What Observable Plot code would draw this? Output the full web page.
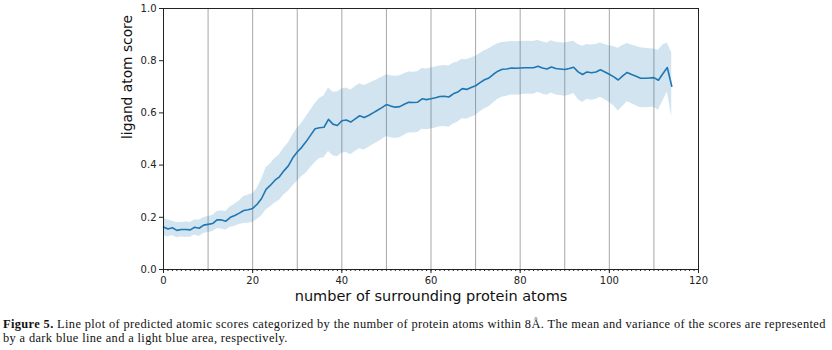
<!DOCTYPE html>
<html>
<head>
<meta charset="utf-8">
<script src="https://cdn.jsdelivr.net/npm/d3@7"></script>
<script src="https://cdn.jsdelivr.net/npm/@observablehq/plot@0.6"></script>
<style>
  html, body { margin: 0; padding: 0; background: #fff; }
  #chart svg { display: block; }
  #caption {
    margin: 7px 0 0 3px;
    font-family: "Liberation Serif", "DejaVu Serif", serif;
    font-size: 12.4px;
    letter-spacing: 0.37px;
    line-height: 14px;
    color: #111;
    white-space: nowrap;
  }
  #caption b { font-weight: bold; }
</style>
</head>
<body>
<div id="chart"></div>
<div id="caption"><b>Figure 5.</b> Line plot of predicted atomic scores categorized by the number of protein atoms within 8Å. The mean and variance of the scores are represented<br>by a dark blue line and a light blue area, respectively.</div>
<script>
// number of surrounding protein atoms: 0..114
const meanScore = [
  0.163,0.155,0.160,0.150,0.153,0.153,0.152,0.162,0.158,0.170,
  0.173,0.176,0.190,0.190,0.185,0.200,0.207,0.216,0.226,0.229,
  0.234,0.250,0.272,0.307,0.323,0.342,0.355,0.378,0.397,0.428,
  0.450,0.468,0.490,0.515,0.539,0.543,0.545,0.575,0.557,0.552,
  0.570,0.573,0.565,0.577,0.589,0.582,0.590,0.600,0.610,0.620,
  0.632,0.626,0.622,0.624,0.633,0.641,0.640,0.641,0.654,0.651,
  0.654,0.658,0.663,0.664,0.661,0.673,0.680,0.693,0.690,0.697,
  0.704,0.716,0.727,0.734,0.748,0.760,0.767,0.768,0.772,0.771,
  0.772,0.773,0.773,0.773,0.779,0.772,0.768,0.776,0.770,0.768,
  0.766,0.770,0.775,0.757,0.747,0.757,0.754,0.757,0.765,0.757,
  0.748,0.738,0.726,0.742,0.755,0.747,0.740,0.733,0.733,0.734,
  0.735,0.725,0.750,0.774,0.702
];
const upperScore = [
  0.195,0.190,0.185,0.180,0.180,0.182,0.180,0.190,0.190,0.198,
  0.203,0.207,0.222,0.225,0.222,0.240,0.250,0.262,0.280,0.285,
  0.290,0.310,0.345,0.390,0.405,0.425,0.440,0.465,0.485,0.515,
  0.540,0.560,0.585,0.610,0.635,0.655,0.665,0.695,0.680,0.680,
  0.692,0.695,0.688,0.700,0.712,0.705,0.712,0.720,0.728,0.737,
  0.746,0.742,0.740,0.742,0.750,0.757,0.756,0.758,0.770,0.768,
  0.772,0.776,0.780,0.782,0.780,0.790,0.795,0.806,0.804,0.810,
  0.817,0.828,0.838,0.846,0.856,0.865,0.870,0.872,0.874,0.873,
  0.874,0.875,0.875,0.874,0.878,0.872,0.868,0.876,0.871,0.869,
  0.868,0.872,0.875,0.862,0.855,0.862,0.860,0.862,0.868,0.862,
  0.857,0.853,0.848,0.858,0.866,0.860,0.855,0.850,0.848,0.846,
  0.845,0.840,0.860,0.868,0.830
];
const lowerScore = [
  0.130,0.125,0.130,0.122,0.125,0.124,0.124,0.132,0.126,0.138,
  0.142,0.145,0.156,0.155,0.150,0.162,0.166,0.172,0.176,0.177,
  0.180,0.192,0.205,0.228,0.240,0.255,0.265,0.285,0.300,0.320,
  0.338,0.355,0.370,0.390,0.410,0.425,0.428,0.452,0.436,0.432,
  0.445,0.448,0.440,0.452,0.463,0.458,0.467,0.478,0.488,0.498,
  0.510,0.505,0.502,0.505,0.514,0.523,0.523,0.525,0.537,0.535,
  0.538,0.542,0.547,0.548,0.545,0.557,0.564,0.578,0.576,0.583,
  0.590,0.604,0.616,0.624,0.638,0.652,0.661,0.664,0.669,0.668,
  0.670,0.671,0.671,0.671,0.679,0.672,0.668,0.676,0.669,0.667,
  0.664,0.668,0.674,0.652,0.640,0.652,0.648,0.652,0.660,0.650,
  0.640,0.626,0.607,0.625,0.643,0.635,0.627,0.620,0.620,0.621,
  0.622,0.610,0.645,0.680,0.585
];
const xTicks = [0, 20, 40, 60, 80, 100, 120];
const xGrid = [10, 20, 30, 40, 50, 60, 70, 80, 90, 100, 110];
const yTicks = [0, 0.2, 0.4, 0.6, 0.8, 1.0];
const xLabel = "number of surrounding protein atoms";
const yLabel = "ligand atom score";

const rows = meanScore.map((m, i) => ({n: i, mean: m, lo: lowerScore[i], hi: upperScore[i]}));
const minorTicks = d3.range(0, 121, 1);

const chart = Plot.plot({
  width: 832,
  height: 310,
  marginLeft: 163,
  marginRight: 134,
  marginTop: 8,
  marginBottom: 41,
  style: {fontFamily: "DejaVu Sans", fontSize: "10px", color: "#222", background: "#fff"},
  x: {domain: [0, 120]},
  y: {domain: [0, 1]},
  marks: [
    Plot.ruleX(xGrid, {stroke: "#a8a8a8", strokeWidth: 1}),
    Plot.areaY(rows, {x: "n", y1: "lo", y2: "hi", fill: "#1f77b4", fillOpacity: 0.2}),
    Plot.lineY(rows, {x: "n", y: "mean", stroke: "#1f77b4", strokeWidth: 1.6}),
    Plot.axisX(minorTicks, {tickSize: 2, text: null, label: null, stroke: "#222"}),
    Plot.axisX(xTicks, {tickSize: 4, tickPadding: 3, label: null, tickFormat: d => String(d), stroke: "#222"}),
    Plot.axisY(yTicks, {tickSize: 4, tickPadding: 3, label: null, tickFormat: d => d.toFixed(1), stroke: "#222"}),
    Plot.frame({stroke: "#222", strokeWidth: 1}),
    Plot.text([xLabel], {frameAnchor: "bottom", dy: 31, fontSize: 14.5, fill: "#111"}),
    Plot.text([yLabel], {frameAnchor: "left", dx: -36, rotate: -90, fontSize: 13.8, fill: "#111"})
  ]
});
document.getElementById("chart").appendChild(chart);
</script>
</body>
</html>
